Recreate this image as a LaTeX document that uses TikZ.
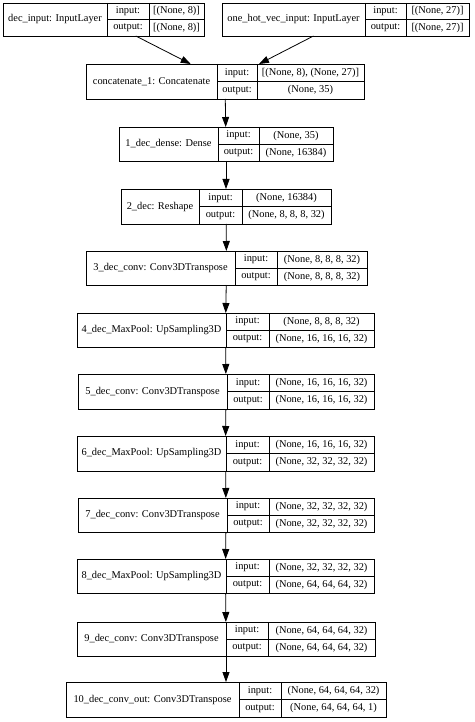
\documentclass[tikz,border=0pt]{standalone}
\usepackage{fontspec}
\setmainfont{Liberation Serif}
\usetikzlibrary{arrows.meta}
\def\splitfour#1/#2/#3/#4\relax{\def\LxA{#1}\def\LxB{#2}\def\LxC{#3}\def\LxD{#4}}
\def\splittwo#1/#2\relax{\def\LyA{#1}\def\LyB{#2}}
\newcommand\layer[6]{%
  \splitfour#2\relax
  \splittwo#3\relax
  \pgfmathsetmacro\Lxm{(\LxA+\LxD)/2}%
  \pgfmathsetmacro\Lym{(\LyA+\LyB)/2}%
  \pgfmathsetmacro\Lbw{\LxD-\LxA}%
  \pgfmathsetmacro\Lbh{\LyB-\LyA}%
  \pgfmathsetmacro\Lxl{(\LxA+\LxB)/2}%
  \pgfmathsetmacro\Lxk{(\LxB+\LxC)/2}%
  \pgfmathsetmacro\Lxv{(\LxC+\LxD)/2}%
  \pgfmathsetmacro\Lyi{(\LyA+\Lym)/2}%
  \pgfmathsetmacro\Lyo{(\Lym+\LyB)/2}%
  \node[layerbox, minimum width=\Lbw pt, minimum height=\Lbh pt] (#1) at (\Lxm,\Lym) {};
  \draw[cell] (\LxB,\LyA) -- (\LxB,\LyB);
  \draw[cell] (\LxC,\LyA) -- (\LxC,\LyB);
  \draw[cell] (\LxB,\Lym) -- (\LxD,\Lym);
  \node[txt] (#1-l) at (\Lxl,\Lym) {#4};
  \node[txt] (#1-ik) at (\Lxk,\Lyi) {input:};
  \node[txt] (#1-iv) at (\Lxv,\Lyi) {#5};
  \node[txt] (#1-ok) at (\Lxk,\Lyo) {output:};
  \node[txt] (#1-ov) at (\Lxv,\Lyo) {#6};
}
\begin{document}
\begin{tikzpicture}[x=1pt,y=-1pt,
  layerbox/.style={draw=black, line width=0.8pt, rectangle, inner sep=0pt, outer sep=0pt},
  cell/.style={draw=black, line width=0.8pt},
  txt/.style={inner sep=0pt, font=\fontsize{10.4}{12}\selectfont},
  arr/.style={draw=black, line width=0.8pt, -{Triangle[length=10pt,width=7pt]}}]
\fill[white] (0,0) rectangle (474,722);
\useasboundingbox (0,0) rectangle (474,722);
\layer{din}{3/107/149/204}{3/36}{dec\_input: InputLayer}{[(None, 8)]}{[(None, 8)]}
\layer{oh}{222/365/406/469}{3/36}{one\_hot\_vec\_input: InputLayer}{[(None, 27)]}{[(None, 27)]}
\layer{cat}{86/217/257/364}{64/99}{concatenate\_1: Concatenate}{[(None, 8), (None, 27)]}{(None, 35)}
\layer{l1}{119/218/259/333}{127/161}{1\_dec\_dense: Dense}{(None, 35)}{(None, 16384)}
\layer{l2}{121/199/242/331}{189/224}{2\_dec: Reshape}{(None, 16384)}{(None, 8, 8, 8, 32)}
\layer{l3}{86/235/277/367}{251/285}{3\_dec\_conv: Conv3DTranspose}{(None, 8, 8, 8, 32)}{(None, 8, 8, 8, 32)}
\layer{l4}{77/226/269/374}{313/347}{4\_dec\_MaxPool: UpSampling3D}{(None, 8, 8, 8, 32)}{(None, 16, 16, 16, 32)}
\layer{l5}{78/227/269/374}{374/409}{5\_dec\_conv: Conv3DTranspose}{(None, 16, 16, 16, 32)}{(None, 16, 16, 16, 32)}
\layer{l6}{77/226/269/374}{436/471}{6\_dec\_MaxPool: UpSampling3D}{(None, 16, 16, 16, 32)}{(None, 32, 32, 32, 32)}
\layer{l7}{78/227/269/374}{498/532}{7\_dec\_conv: Conv3DTranspose}{(None, 32, 32, 32, 32)}{(None, 32, 32, 32, 32)}
\layer{l8}{77/226/269/374}{559/593}{8\_dec\_MaxPool: UpSampling3D}{(None, 32, 32, 32, 32)}{(None, 64, 64, 64, 32)}
\layer{l9}{77/226/268/375}{622/656}{9\_dec\_conv: Conv3DTranspose}{(None, 64, 64, 64, 32)}{(None, 64, 64, 64, 32)}
\layer{l10}{66/239/281/386}{682/717}{10\_dec\_conv\_out: Conv3DTranspose}{(None, 64, 64, 64, 32)}{(None, 64, 64, 64, 1)}
\draw[arr] (din) -- (cat);
\draw[arr] (oh) -- (cat);
\draw[arr] (cat) -- (l1);
\draw[arr] (l1) -- (l2);
\draw[arr] (l2) -- (l3);
\draw[arr] (l3) -- (l4);
\draw[arr] (l4) -- (l5);
\draw[arr] (l5) -- (l6);
\draw[arr] (l6) -- (l7);
\draw[arr] (l7) -- (l8);
\draw[arr] (l8) -- (l9);
\draw[arr] (l9) -- (l10);
\end{tikzpicture}
\end{document}
